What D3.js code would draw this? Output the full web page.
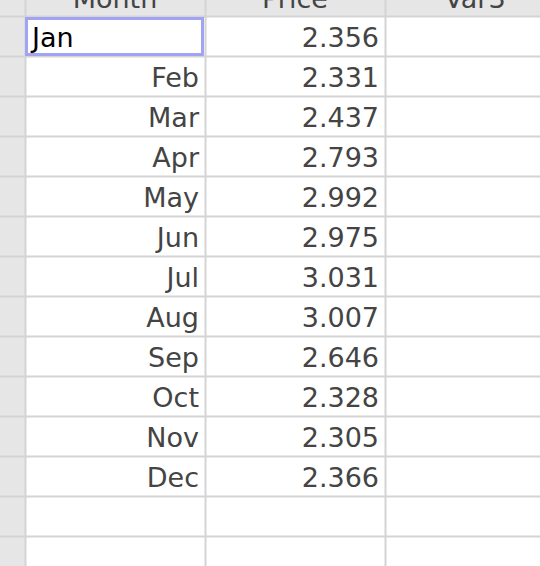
<html>
<body style="margin:0;background:#fff">
<svg width="540" height="566"></svg>
<script src="https://cdn.jsdelivr.net/npm/d3@7"></script>
<script>
var headers = ["Month", "Price", "Var3"];
var months = ["Jan","Feb","Mar","Apr","May","Jun","Jul","Aug","Sep","Oct","Nov","Dec"];
var prices = ["2.356","2.331","2.437","2.793","2.992","2.975","3.031","3.007","2.646","2.328","2.305","2.366"];

var svg = d3.select("svg"),
    gutter = 25, rowH = 40, nRows = 14, fs = 27;

var x = d3.scaleBand().domain(headers).range([gutter, 565]).padding(0);
var y = d3.scaleLinear().domain([0, 1]).range([17, 17 + rowH]);

// header + gutter backgrounds
svg.append("rect").attr("x",0).attr("y",0).attr("width",540).attr("height",17).attr("fill","#e6e6e6");
svg.append("rect").attr("x",0).attr("y",0).attr("width",gutter).attr("height",566).attr("fill","#e6e6e6");

// grid
var rows = d3.range(nRows + 1);
svg.selectAll("line.h").data(rows).enter().append("line")
  .attr("x1",0).attr("x2",540)
  .attr("y1",function(d){return y(d)-0.5;}).attr("y2",function(d){return y(d)-0.5;})
  .attr("stroke","#d4d4d4").attr("stroke-width",2);
svg.selectAll("line.v").data(headers).enter().append("line")
  .attr("x1",function(d){return x(d)+0.5;}).attr("x2",function(d){return x(d)+0.5;})
  .attr("y1",0).attr("y2",566)
  .attr("stroke","#d4d4d4").attr("stroke-width",2);

var font = "Verdana, 'DejaVu Sans', sans-serif";

svg.selectAll("text.head").data(headers).enter().append("text")
  .attr("x",function(d){return x(d)+x.bandwidth()/2;}).attr("y",8)
  .attr("text-anchor","middle").attr("font-family",font).attr("font-size",fs)
  .attr("fill","#444").text(function(d){return d;});

svg.selectAll("text.m").data(months).enter().append("text")
  .attr("x",function(d,i){return i===0 ? x("Month")+7 : x("Month")+x.bandwidth()-6;})
  .attr("y",function(d,i){return y(i)+30;})
  .attr("text-anchor",function(d,i){return i===0?"start":"end";})
  .attr("font-family",font).attr("font-size",fs)
  .attr("fill",function(d,i){return i===0?"#000":"#444";}).text(function(d){return d;});

svg.selectAll("text.p").data(prices).enter().append("text")
  .attr("x",x("Price")+x.bandwidth()-6)
  .attr("y",function(d,i){return y(i)+30;})
  .attr("text-anchor","end").attr("font-family",font).attr("font-size",fs)
  .attr("fill","#444").text(function(d){return d;});

// selected cell
svg.append("rect").attr("x",x("Month")+1.5).attr("y",y(0)+1.5)
  .attr("width",x.bandwidth()-4).attr("height",rowH-4)
  .attr("fill","none").attr("stroke","#a3a3f5").attr("stroke-width",3);
</script>
</body>
</html>
